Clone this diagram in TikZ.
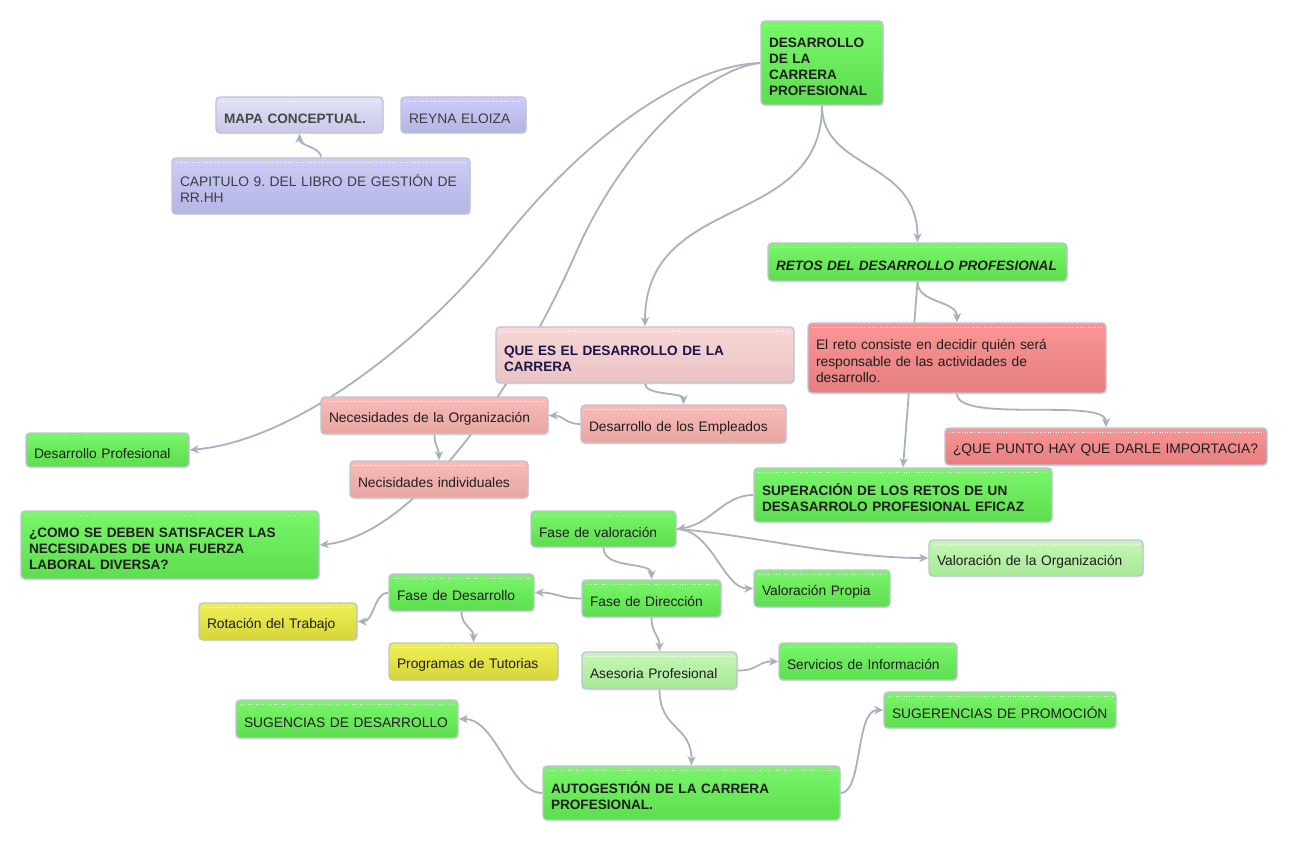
\documentclass[tikz,border=0pt]{standalone}
\usepackage{fontspec}
\setmainfont{Liberation Sans}
\usetikzlibrary{arrows.meta,backgrounds,shadows}

\definecolor{conn}{HTML}{A9B1BD}
\definecolor{bord}{HTML}{BFC3D3}
\definecolor{txt}{HTML}{1E1E1E}
\definecolor{gr1}{HTML}{7AF66A}
\definecolor{gr2}{HTML}{5CDE4E}
\definecolor{lg1}{HTML}{C6F8B6}
\definecolor{lg2}{HTML}{A8E898}
\definecolor{lv1}{HTML}{E2E2F6}
\definecolor{lv2}{HTML}{C8C8EA}
\definecolor{lw1}{HTML}{CDCDF8}
\definecolor{lw2}{HTML}{B4B4E6}
\definecolor{pl1}{HTML}{F8D8D8}
\definecolor{pl2}{HTML}{EAC2C2}
\definecolor{pk1}{HTML}{F8BCB8}
\definecolor{pk2}{HTML}{E8A6A2}
\definecolor{sm1}{HTML}{FA9696}
\definecolor{sm2}{HTML}{E67E7E}
\definecolor{ye1}{HTML}{EFEF58}
\definecolor{ye2}{HTML}{D6D63A}

\begin{document}
\begin{tikzpicture}[x=1pt,y=-1pt,
  box/.style={draw=bord, line width=1.4pt, rounded corners=4pt, inner xsep=8pt, inner ysep=3pt,
    align=left, text=txt, font=\fontsize{13.8}{16.5}\selectfont,
    execute at begin node={\rule{0pt}{17pt}},
    drop shadow={opacity=0.12, shadow xshift=1pt, shadow yshift=-1.5pt},
    path picture={\draw[white, dotted, line width=0.6pt]
      ([xshift=4pt,yshift=-4.5pt]path picture bounding box.north west) --
      ([xshift=-4pt,yshift=-4.5pt]path picture bounding box.north east);}},
  heavy/.style={font=\bfseries\fontsize{13.6}{16}\selectfont},
  gbox/.style={box, top color=gr1, bottom color=gr2},
  lgbox/.style={box, top color=lg1, bottom color=lg2},
  lvbox/.style={box, top color=lv1, bottom color=lv2, text=black!72},
  lwbox/.style={box, top color=lw1, bottom color=lw2, text=black!76},
  plbox/.style={box, top color=pl1, bottom color=pl2},
  pkbox/.style={box, top color=pk1, bottom color=pk2},
  smbox/.style={box, top color=sm1, bottom color=sm2},
  yebox/.style={box, top color=ye1, bottom color=ye2},
  link/.style={draw=conn, line width=1.8pt, -{Stealth[length=9pt,width=8pt,inset=2.5pt]}}]
	\useasboundingbox (0,0) rectangle (1289,842);

	\node (mapa) [lvbox,heavy,text width=151pt,minimum height=36pt] at (299.5,115) {MAPA CONCEPTUAL.};
	\node (reyna) [lwbox,text width=109pt,minimum height=36pt] at (463.5,115) {REYNA ELOIZA};
	\node (capitulo) [lwbox,text width=282pt,minimum height=56pt] at (321,186) {CAPITULO 9.\ DEL LIBRO DE GESTIÓN DE\\RR.HH};

	\node (root) [gbox,heavy,text width=106pt,minimum height=84pt] at (822,63) {DESARROLLO\\DE LA\\CARRERA\\PROFESIONAL};
	\node (retos) [gbox,font=\bfseries\itshape\fontsize{13.6}{16}\selectfont,text width=283pt,minimum height=38pt] at (917.5,262) {RETOS DEL DESARROLLO PROFESIONAL};
	\node (quees) [plbox,heavy,text={rgb,255:red,26;green,20;blue,72},text width=282pt,minimum height=56pt] at (645,355) {QUE ES EL DESARROLLO DE LA\\CARRERA};
	\node (reto) [smbox,text width=282pt,minimum height=70pt] at (957,358) {El reto consiste en decidir quién será\\responsable de las actividades de\\desarrollo.};
	\node (necorg) [pkbox,text width=211pt,minimum height=37pt] at (434.5,415.5) {Necesidades de la Organización};
	\node (desemp) [pkbox,text width=189pt,minimum height=38pt] at (683.5,424) {Desarrollo de los Empleados};
	\node (desprof) [gbox,text width=147pt,minimum height=34pt] at (107.5,450) {Desarrollo Profesional};
	\node (quepunto) [smbox,text width=306pt,minimum height=37pt] at (1106,446.5) {¿QUE PUNTO HAY QUE DARLE IMPORTACIA?};
	\node (necind) [pkbox,text width=162pt,minimum height=37pt] at (439,479.5) {Necisidades individuales};
	\node (superacion) [gbox,heavy,text width=282pt,minimum height=54pt] at (903,495) {SUPERACIÓN DE LOS RETOS DE UN\\DESASARROLO PROFESIONAL EFICAZ};
	\node (como) [gbox,heavy,text width=282pt,minimum height=68pt] at (170,545) {¿COMO SE DEBEN SATISFACER LAS\\NECESIDADES DE UNA FUERZA\\LABORAL DIVERSA?};
	\node (fasev) [gbox,text width=129pt,minimum height=36pt] at (603.5,529) {Fase de valoración};
	\node (valorg) [lgbox,text width=198pt,minimum height=36pt] at (1036,558) {Valoración de la Organización};
	\node (valprop) [gbox,text width=120pt,minimum height=37pt] at (822,588.5) {Valoración Propia};
	\node (fasedir) [gbox,text width=123pt,minimum height=37pt] at (651.5,598.5) {Fase de Dirección};
	\node (fasedes) [gbox,text width=129pt,minimum height=37pt] at (461.5,592.5) {Fase de Desarrollo};
	\node (rotacion) [yebox,text width=142pt,minimum height=37pt] at (278,621.5) {Rotación del Trabajo};
	\node (programas) [yebox,text width=153pt,minimum height=37pt] at (473.5,661.5) {Programas de Tutorias};
	\node (asesoria) [lgbox,text width=139pt,minimum height=37pt] at (659.5,670.5) {Asesoria Profesional};
	\node (servicios) [gbox,text width=162pt,minimum height=37pt] at (868,661.5) {Servicios de Información};
	\node (sugprom) [gbox,text width=216pt,minimum height=36pt] at (1000,710) {SUGERENCIAS DE PROMOCIÓN};
	\node (sugdes) [gbox,text width=206pt,minimum height=38pt] at (347,719) {SUGENCIAS DE DESARROLLO};
	\node (auto) [gbox,heavy,text width=281pt,minimum height=54pt] at (691.5,793) {AUTOGESTIÓN DE LA CARRERA\\PROFESIONAL.};

	\begin{scope}[on background layer]
		\draw[link] (capitulo.north) .. controls +(0,-10) and +(0,12) .. (mapa.south);
		\draw[link] (root.west) .. controls +(-70,2) and +(90,-114) .. (500,244) .. controls +(-70,89) and +(111,-10) .. (desprof.east);
		\draw[link] (root.west) .. controls +(-57,6) and +(45,-105) .. (575,255) .. controls +(-55,125) and +(98,-10) .. (como.east);
		\draw[link] (root.south) .. controls +(0,125) and +(0,-135) .. (quees.north);
		\draw[link] (root.south) .. controls +(0,65) and +(0,-83) .. (retos.north);
		\draw[link] (retos.south) .. controls +(0,22) and +(0,-22) .. (reto.north);
		\draw[link] (retos.south) -- (superacion.north);
		\draw[link] (reto.south) .. controls +(0,30) and +(0,-30) .. (quepunto.north);
		\draw[link] (quees.south) .. controls +(0,12) and +(0,-12) .. (desemp.north);
		\draw[link] (desemp.west) .. controls +(-15,0) and +(15,0) .. (necorg.east);
		\draw[link] (necorg.south) .. controls +(0,12) and +(0,-12) .. (necind.north);
		\draw[link] (superacion.west) .. controls +(-30,0) and +(35,-5) .. (fasev.east);
		\draw[link] (fasev.east) .. controls +(70,5) and +(-90,0) .. (valorg.west);
		\draw[link] (fasev.east) .. controls +(35,0) and +(-30,0) .. (valprop.west);
		\draw[link] (fasev.south) .. controls +(0,22) and +(0,-18) .. (fasedir.north);
		\draw[link] (fasedir.west) .. controls +(-22,0) and +(22,0) .. (fasedes.east);
		\draw[link] (fasedes.west) .. controls +(-14,0) and +(16,0) .. (rotacion.east);
		\draw[link] (fasedes.south) .. controls +(0,15) and +(0,-15) .. (programas.north);
		\draw[link] (fasedir.south) .. controls +(0,15) and +(0,-15) .. (asesoria.north);
		\draw[link] (asesoria.east) .. controls +(22,0) and +(-22,0) .. (servicios.west);
		\draw[link] (asesoria.south) .. controls +(0,40) and +(0,-40) .. (auto.north);
		\draw[link] (auto.west) .. controls +(-32,0) and +(38,0) .. (sugdes.east);
		\draw[link] (auto.east) .. controls +(22,0) and +(-28,0) .. (sugprom.west);
	\end{scope}
\end{tikzpicture}
\end{document}
